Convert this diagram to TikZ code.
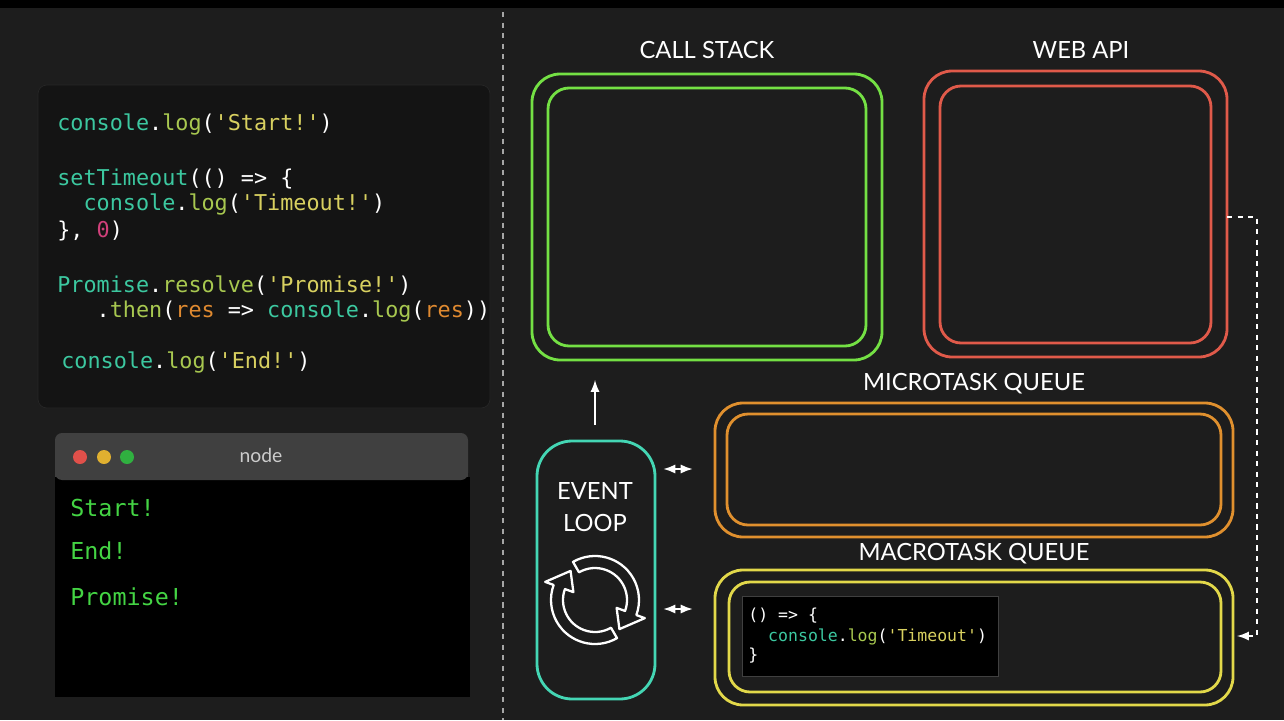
\documentclass[tikz,border=0pt]{standalone}
\usepackage{fontspec}
\usetikzlibrary{calc,arrows.meta}
\setmainfont{Lato}
\newfontfamily\codefont{DejaVu Sans Mono}
\definecolor{bgcol}{HTML}{1D1D1D}
\definecolor{kteal}{HTML}{3CC8A0}
\definecolor{klog}{HTML}{A8C850}
\definecolor{kstr}{HTML}{D8D060}
\definecolor{knum}{HTML}{D0407A}
\definecolor{kres}{HTML}{E08A30}
\definecolor{stackcol}{HTML}{74E044}
\definecolor{apicol}{HTML}{E05A4A}
\definecolor{microcol}{HTML}{E0902E}
\definecolor{macrocol}{HTML}{E2D84A}
\definecolor{loopcol}{HTML}{44D6B4}
\definecolor{termgreen}{HTML}{44D444}
\newcommand{\cc}[1]{\textcolor{kteal}{#1}}
\newcommand{\cl}[1]{\textcolor{klog}{#1}}
\newcommand{\cs}[1]{\textcolor{kstr}{#1}}
\begin{document}
\begin{tikzpicture}[x=0.02cm,y=-0.02cm,
  title/.style={text=white,font=\fontsize{13.5}{13.5}\selectfont},
  box/.style={line width=1.6pt,rounded corners=16pt},
  code/.style={anchor=west,text=white,inner sep=0pt,font=\codefont\fontsize{12.4}{12.4}\selectfont},
  termline/.style={anchor=west,text=termgreen,inner sep=0pt,font=\codefont\fontsize{13.3}{13.3}\selectfont},
  small/.style={anchor=west,text=white,inner sep=0pt,font=\codefont\fontsize{9.4}{9.4}\selectfont},
  conn/.style={white,line width=1.3pt}]
\fill[bgcol] (0,0) rectangle (1284,720);
\fill[black] (0,0) rectangle (1284,8);
\useasboundingbox (0,0) rectangle (1284,720);
\draw[gray!70,dashed,line width=1pt] (503,12) -- (503,720);

%%% code panel
\draw[black!85!white,fill=black!92!white,rounded corners=5pt] (38,85) rectangle (490,408);
\node[code] (l1) at (57,125) {\cc{console}.\cl{log}(\cs{'Start!'})};
\node[code] (l2) at (57,179) {\cc{setTimeout}(() => \{};
\node[code] (l3) at (57,205) {~~\cc{console}.\cl{log}(\cs{'Timeout!'})};
\node[code] (l4) at (57,231) {\}, \textcolor{knum}{0})};
\node[code] (l5) at (57,286) {\cc{Promise}.\cl{resolve}(\cs{'Promise!'})};
\node[code] (l6) at (57,312) {~~~.\cl{then}(\textcolor{kres}{res} => \cc{console}.\cl{log}(\textcolor{kres}{res}))};
\node[code] (l7) at (61,362) {\cc{console}.\cl{log}(\cs{'End!'})};

%%% terminal
\fill[black] (55,477) rectangle (470,697);
\fill[black!75!white,rounded corners=4pt] (55,433) rectangle (468,480);
\fill[black!75!white] (55,470) rectangle (468,477);
\foreach \px/\col in {80/E0504A,104/E0B030,127/30B040}{\definecolor{dot}{HTML}{\col}\fill[dot] (\px,457) circle (7);}
\node[text=white!80!black,font=\fontsize{11}{11}\selectfont] (term) at (261,455) {node};
\node[termline] (o1) at (70,508) {Start!};
\node[termline] (o2) at (70,551) {End!};
\node[termline] (o3) at (70,597) {Promise!};

%%% call stack and web api
\node[title] (tstack) at (707,50) {CALL STACK};
\draw[stackcol,box] (532,74) rectangle (882,360);
\draw[stackcol,box,rounded corners=12pt] (548,88) rectangle (866,346);
\node[title] (tapi) at (1081,50) {WEB API};
\draw[apicol,box] (924,71) rectangle (1227,357);
\draw[apicol,box,rounded corners=12pt] (940,86) rectangle (1211,343);
\coordinate (apiout) at (1227,217);

%%% queues
\node[title] (tmicro) at (974,384) {MICROTASK QUEUE};
\draw[microcol,box] (715,403) rectangle (1233,537);
\draw[microcol,box,rounded corners=12pt] (727,414) rectangle (1221,525);
\node[title] (tmacro) at (974,554) {MACROTASK QUEUE};
\draw[macrocol,box] (715,570) rectangle (1233,705);
\draw[macrocol,box,rounded corners=12pt] (729,582) rectangle (1221,692);
\coordinate (macroin) at (1237,636);
\draw[black!75!white,fill=black] (742,596) rectangle (998,676);
\node[small] (m1) at (748,616) {() => \{};
\node[small] (m2) at (748,637) {~~\cc{console}.\cl{log}(\cs{'Timeout'})};
\node[small] (m3) at (748,656) {\}};

%%% event loop
\draw[loopcol,box,rounded corners=20pt] (537,441) rectangle (655,699);
\node[title,align=center,font=\fontsize{13.5}{18}\selectfont] (tloop) at (595,507) {EVENT\\LOOP};
\foreach \s/\e in {60/200,240/380}{
  \draw[white,line width=1.3pt,line join=round] ($(595,600)+(\s:44)$) arc[start angle=\s,end angle=\e,radius=44]
    -- ($(595,600)+(\e:53)$) -- ($(595,600)+(\e+30:38)$) -- ($(595,600)+(\e:23)$) -- ($(595,600)+(\e:32)$)
    arc[start angle=\e,end angle=\s,radius=32] -- cycle;}

%%% connectors
\coordinate (upa) at (595,425);
\coordinate (upb) at (595,380);
\draw[conn,-latex] (upa) -- (upb);
\coordinate (ma) at (663,469);
\coordinate (mb) at (693,469);
\coordinate (na) at (663,609);
\coordinate (nb) at (693,609);
\draw[conn,{Latex[length=7pt]}-{Latex[length=7pt]}] (ma) -- (mb);
\draw[conn,{Latex[length=7pt]}-{Latex[length=7pt]}] (na) -- (nb);
\draw[conn,dashed,-latex] (apiout) -- (1257,217) -- (1257,636) -- (macroin);
\end{tikzpicture}
\end{document}
